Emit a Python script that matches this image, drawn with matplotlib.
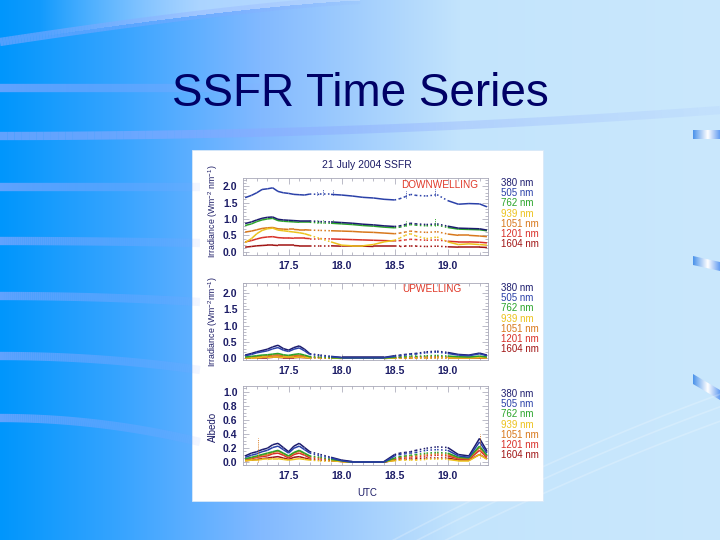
import numpy as np
import matplotlib
matplotlib.use("Agg")
import matplotlib.pyplot as plt
from matplotlib.collections import LineCollection
from matplotlib.patches import Rectangle, Polygon
from matplotlib.ticker import MultipleLocator

plt.rcParams['font.family'] = ['Liberation Sans', 'DejaVu Sans']
plt.rcParams['mathtext.fontset'] = 'custom'
plt.rcParams['mathtext.rm'] = 'Liberation Sans'
plt.rcParams['mathtext.it'] = 'Liberation Sans:italic'
plt.rcParams['mathtext.bf'] = 'Liberation Sans:bold'

# ---------------- data ----------------
SLIDE_TITLE = "SSFR Time Series"
CHART_TITLE = "21 July 2004 SSFR"
WAVELENGTHS = ["380 nm", "505 nm", "762 nm", "939 nm", "1051 nm", "1201 nm", "1604 nm"]
X_TICKS = [17.5, 18.0, 18.5, 19.0]

T = [17.09, 17.15, 17.20, 17.25, 17.30, 17.35, 17.40, 17.45, 17.50, 17.55, 17.60,
     17.65, 17.70, 17.80, 17.90, 18.00, 18.10, 18.20, 18.30, 18.40, 18.50, 18.55,
     18.60, 18.65, 18.70, 18.80, 18.90, 19.00, 19.10, 19.20, 19.30, 19.37]

# downwelling irradiance (W m-2 nm-1)
D380 = [0.86, 0.91, 0.97, 1.02, 1.05, 1.06, 0.99, 0.97, 0.96, 0.95, 0.94, 0.94, 0.94, 0.92, 0.91, 0.89,
        0.87, 0.84, 0.82, 0.79, 0.77, 0.79, 0.83, 0.87, 0.85, 0.83, 0.85, 0.78, 0.72, 0.71, 0.70, 0.66]
D505 = [1.65, 1.72, 1.80, 1.90, 1.92, 1.95, 1.84, 1.80, 1.78, 1.75, 1.74, 1.73, 1.76, 1.75, 1.75, 1.73,
        1.70, 1.66, 1.64, 1.60, 1.58, 1.62, 1.68, 1.75, 1.72, 1.70, 1.74, 1.56, 1.45, 1.47, 1.46, 1.37]
D762 = [0.80, 0.85, 0.92, 0.97, 1.00, 1.02, 0.95, 0.93, 0.92, 0.91, 0.90, 0.90, 0.90, 0.88, 0.87, 0.85,
        0.83, 0.80, 0.78, 0.75, 0.73, 0.75, 0.79, 0.83, 0.81, 0.79, 0.81, 0.74, 0.69, 0.68, 0.67, 0.64]
D939 = [0.28, 0.40, 0.55, 0.65, 0.70, 0.72, 0.66, 0.64, 0.62, 0.60, 0.58, 0.55, 0.50, 0.40, 0.30, 0.20,
        0.18, 0.18, 0.22, 0.30, 0.35, 0.42, 0.50, 0.55, 0.48, 0.40, 0.45, 0.30, 0.22, 0.24, 0.22, 0.20]
D1051 = [0.60, 0.63, 0.67, 0.71, 0.73, 0.74, 0.70, 0.69, 0.68, 0.68, 0.67, 0.67, 0.66, 0.65, 0.64, 0.63,
         0.62, 0.60, 0.59, 0.57, 0.55, 0.57, 0.60, 0.63, 0.61, 0.59, 0.61, 0.54, 0.50, 0.50, 0.48, 0.46]
D1201 = [0.30, 0.34, 0.39, 0.43, 0.45, 0.46, 0.43, 0.42, 0.42, 0.41, 0.41, 0.41, 0.40, 0.40, 0.39, 0.38,
         0.37, 0.36, 0.35, 0.34, 0.33, 0.34, 0.36, 0.38, 0.37, 0.35, 0.36, 0.32, 0.30, 0.30, 0.29, 0.27]
D1604 = [0.14, 0.16, 0.18, 0.19, 0.20, 0.20, 0.19, 0.19, 0.19, 0.19, 0.18, 0.18, 0.18, 0.18, 0.18, 0.17,
         0.17, 0.17, 0.16, 0.16, 0.16, 0.16, 0.17, 0.17, 0.17, 0.16, 0.17, 0.15, 0.14, 0.14, 0.14, 0.13]

# short spikes in the downwelling record
SPIKE_T = [17.77, 17.82, 17.92, 18.61, 18.88]
SPIKE_505_LO = [1.74, 1.74, 1.74, 1.64, 1.70]
SPIKE_505_HI = [1.85, 1.90, 1.88, 1.85, 1.92]
SPIKE_762_LO = [0.88, 0.88, 0.87, 0.78, 0.80]
SPIKE_762_HI = [0.97, 1.00, 0.98, 0.95, 1.02]

# upwelling irradiance (W m-2 nm-1)
U380 = [0.10, 0.15, 0.20, 0.24, 0.28, 0.35, 0.40, 0.30, 0.25, 0.33, 0.38, 0.28, 0.14, 0.10, 0.06, 0.03,
        0.03, 0.03, 0.03, 0.03, 0.08, 0.10, 0.12, 0.14, 0.15, 0.20, 0.22, 0.18, 0.12, 0.10, 0.16, 0.10]
U505 = [0.08, 0.12, 0.17, 0.20, 0.23, 0.29, 0.33, 0.25, 0.21, 0.28, 0.32, 0.23, 0.12, 0.08, 0.05, 0.02,
        0.02, 0.02, 0.02, 0.02, 0.06, 0.08, 0.10, 0.12, 0.13, 0.17, 0.19, 0.15, 0.10, 0.08, 0.14, 0.08]
U762 = [0.04, 0.06, 0.08, 0.10, 0.11, 0.13, 0.15, 0.11, 0.09, 0.12, 0.14, 0.10, 0.05, 0.04, 0.02, 0.01,
        0.01, 0.01, 0.01, 0.01, 0.03, 0.04, 0.05, 0.06, 0.06, 0.08, 0.09, 0.07, 0.05, 0.04, 0.07, 0.04]
U939 = [0.01, 0.02, 0.02, 0.03, 0.03, 0.04, 0.04, 0.03, 0.03, 0.03, 0.04, 0.03, 0.01, 0.01, 0.01, 0.00,
        0.00, 0.00, 0.00, 0.00, 0.01, 0.01, 0.01, 0.02, 0.02, 0.02, 0.02, 0.01, 0.01, 0.01, 0.02, 0.01]
U1051 = [0.03, 0.05, 0.06, 0.07, 0.08, 0.10, 0.11, 0.08, 0.07, 0.09, 0.10, 0.07, 0.04, 0.03, 0.02, 0.01,
         0.01, 0.01, 0.01, 0.01, 0.02, 0.03, 0.03, 0.04, 0.04, 0.05, 0.06, 0.04, 0.03, 0.03, 0.05, 0.03]
U1201 = [0.02, 0.03, 0.04, 0.05, 0.05, 0.06, 0.07, 0.05, 0.04, 0.06, 0.07, 0.05, 0.03, 0.02, 0.01, 0.00,
         0.00, 0.00, 0.00, 0.00, 0.01, 0.02, 0.02, 0.02, 0.03, 0.03, 0.04, 0.03, 0.02, 0.02, 0.03, 0.02]
U1604 = [0.01, 0.01, 0.02, 0.02, 0.02, 0.03, 0.03, 0.02, 0.02, 0.02, 0.03, 0.02, 0.01, 0.01, 0.00, 0.00,
         0.00, 0.00, 0.00, 0.00, 0.01, 0.01, 0.01, 0.01, 0.01, 0.01, 0.02, 0.01, 0.01, 0.01, 0.01, 0.01]

# albedo
A380 = [0.08, 0.12, 0.14, 0.17, 0.19, 0.24, 0.26, 0.20, 0.14, 0.22, 0.26, 0.20, 0.14, 0.10, 0.06, 0.02,
        0.00, 0.00, 0.00, 0.00, 0.10, 0.12, 0.13, 0.14, 0.16, 0.19, 0.21, 0.20, 0.10, 0.08, 0.33, 0.15]
A505 = [0.06, 0.09, 0.11, 0.14, 0.16, 0.20, 0.22, 0.17, 0.12, 0.19, 0.22, 0.17, 0.12, 0.08, 0.05, 0.01,
        -0.01, -0.01, -0.01, -0.01, 0.08, 0.10, 0.11, 0.12, 0.13, 0.16, 0.17, 0.16, 0.08, 0.06, 0.28, 0.12]
A762 = [0.04, 0.06, 0.08, 0.10, 0.12, 0.14, 0.16, 0.12, 0.08, 0.13, 0.16, 0.12, 0.08, 0.06, 0.03, 0.01,
        -0.01, -0.01, -0.01, -0.01, 0.05, 0.07, 0.08, 0.09, 0.10, 0.12, 0.13, 0.12, 0.06, 0.05, 0.22, 0.09]
A939 = [0.01, 0.02, 0.02, 0.03, 0.03, 0.04, 0.04, 0.03, 0.02, 0.03, 0.04, 0.03, 0.02, 0.01, 0.01, 0.00,
        0.00, 0.00, 0.00, 0.00, 0.01, 0.02, 0.02, 0.02, 0.02, 0.03, 0.03, 0.03, 0.01, 0.01, 0.10, 0.03]
A1051 = [0.03, 0.05, 0.07, 0.09, 0.10, 0.13, 0.15, 0.11, 0.07, 0.12, 0.15, 0.11, 0.07, 0.05, 0.03, 0.01,
         -0.01, -0.01, -0.01, -0.01, 0.04, 0.06, 0.07, 0.08, 0.08, 0.10, 0.11, 0.10, 0.05, 0.04, 0.20, 0.08]
A1201 = [0.02, 0.04, 0.06, 0.07, 0.08, 0.11, 0.12, 0.09, 0.05, 0.10, 0.12, 0.09, 0.05, 0.04, 0.02, 0.00,
         -0.01, -0.01, -0.01, -0.01, 0.03, 0.05, 0.05, 0.06, 0.06, 0.08, 0.09, 0.08, 0.04, 0.03, 0.16, 0.06]
A1604 = [0.01, 0.02, 0.03, 0.04, 0.05, 0.06, 0.07, 0.05, 0.03, 0.06, 0.07, 0.05, 0.03, 0.02, 0.01, 0.00,
         -0.01, -0.01, -0.01, -0.01, 0.02, 0.03, 0.03, 0.04, 0.04, 0.05, 0.05, 0.05, 0.02, 0.02, 0.10, 0.04]
ALB_SPIKE_T = [17.21, 19.30]
ALB_SPIKE_HI = [0.34, 0.40]

DOWN = [D380, D505, D762, D939, D1051, D1201, D1604]
UP = [U380, U505, U762, U939, U1051, U1201, U1604]
ALB = [A380, A505, A762, A939, A1051, A1201, A1604]

# ---------------- styling ----------------
COLORS = ["#1c1c6e", "#2a40a8", "#2aa42a", "#ecc21c", "#d8781c", "#d83028", "#a01414"]
NAVY = "#1c1c66"
DOTTED_SPANS = [(17.72, 17.95), (18.52, 19.05)]

W, H = 720, 540
fig = plt.figure(figsize=(7.2, 5.4), dpi=100)

# background
bg = fig.add_axes([0, 0, 1, 1])
xx, yy = np.meshgrid(np.arange(W), np.arange(H))
stops_x = [0, 120, 260, 460, 720]
stops_c = np.array([[0, 150, 252], [55, 164, 255], [130, 185, 255], [195, 228, 252], [202, 232, 252]]) / 255.0
img = np.zeros((H, W, 3))
for k in range(3):
    img[:, :, k] = np.interp(xx, stops_x, stops_c[:, k])
# lighter top arc region
ycurve = 42 * np.clip(1 - xx / 360.0, 0, 1) ** 1.3
mask = (yy < ycurve) & (xx > 40)
light = np.array([190, 222, 255]) / 255.0
amt = np.clip((xx - 40) / 160.0, 0, 1) * 0.8
for k in range(3):
    img[:, :, k] = np.where(mask, img[:, :, k] * (1 - amt) + light[k] * amt, img[:, :, k])
bg.imshow(img, extent=[0, W, H, 0], aspect='auto', interpolation='bilinear')
bg.set_xlim(0, W)
bg.set_ylim(H, 0)
bg.axis('off')

stripe = "#8aa8ff"
xs = np.linspace(0, 360, 120)
for i in range(len(xs) - 1):
    a = 0.6 * (1 - xs[i] / 420.0)
    bg.plot(xs[i:i + 2], 42 * np.clip(1 - xs[i:i + 2] / 360.0, 0, 1) ** 1.3, color=stripe, lw=6,
            alpha=a, solid_capstyle='butt')
for y0, x_end, bend in [(88, 260, 0), (136, 720, -2), (187, 200, 0), (241, 200, 2),
                        (296, 200, 6), (356, 200, 14), (418, 200, 24)]:
    xl = np.linspace(0, x_end, 100)
    yl = y0 + bend * (xl / 200.0) ** 2
    for i in range(len(xl) - 1):
        a = 0.7 * (1 - xl[i] / (x_end * 1.15))
        bg.plot(xl[i:i + 2], yl[i:i + 2], color=stripe, lw=6, alpha=a, solid_capstyle='butt')

# faint light arcs bottom right
for off in [0, 28, 60]:
    xa = np.linspace(380 + off, 720, 80)
    ya = 540 - (xa - 380 - off) * 0.45 + ((xa - 550) / 200) ** 2 * 10
    bg.plot(xa, ya, color="white", lw=1.2, alpha=0.22)

# 3D markers at right edge
grad = np.linspace(0, 1, 50)
gc = np.array([np.interp(grad, [0, 0.55, 1], [0.3, 1.0, 0.4]),
               np.interp(grad, [0, 0.55, 1], [0.58, 1.0, 0.62]),
               np.interp(grad, [0, 0.55, 1], [0.92, 1.0, 0.95])]).T[None, :, :]
for poly in [[(693, 130), (720, 130), (720, 139), (693, 139)],
             [(693, 256), (720, 262), (720, 271), (693, 265)],
             [(693, 374), (720, 390), (720, 400), (693, 384)]]:
    p = Polygon(poly, closed=True, facecolor='none', edgecolor='none')
    bg.add_patch(p)
    ys = [pt[1] for pt in poly]
    im = bg.imshow(gc, extent=[693, 720, max(ys), min(ys)], aspect='auto')
    im.set_clip_path(p)

bg.set_xlim(0, W)
bg.set_ylim(H, 0)

# slide title
bg.text(360, 94, SLIDE_TITLE, ha='center', va='center', fontsize=33, color='#000066',
        family=['Liberation Sans Narrow', 'Liberation Sans'])

# white chart panel
bg.add_patch(Rectangle((192, 150), 351, 351, facecolor='white', edgecolor='#d8e8f8', lw=0.6))


def fig_rect(x0, y0, x1, y1):
    return [x0 / W, 1 - y1 / H, (x1 - x0) / W, (y1 - y0) / H]


def draw_series(ax, y, color, lw=1.1):
    pts = np.column_stack([T, y])
    segs = np.stack([pts[:-1], pts[1:]], axis=1)
    tt = np.array(T)
    mid = (tt[:-1] + tt[1:]) / 2
    dotted = np.zeros(len(mid), bool)
    for a, b in DOTTED_SPANS:
        dotted |= (mid > a) & (mid < b)
    ax.add_collection(LineCollection(segs[~dotted], colors=color, linewidths=lw))
    ax.add_collection(LineCollection(segs[dotted], colors=color, linewidths=lw,
                                     linestyles=[(0, (1.0, 1.6))]))


def style_axes(ax, ylim, major, minor):
    ax.set_xlim(17.07, 19.38)
    ax.set_ylim(*ylim)
    ax.set_xticks(X_TICKS)
    ax.set_xticklabels([f"{v:.1f}" for v in X_TICKS])
    ax.xaxis.set_minor_locator(MultipleLocator(0.1))
    ax.yaxis.set_major_locator(MultipleLocator(major))
    ax.yaxis.set_minor_locator(MultipleLocator(minor))
    ax.tick_params(which='both', direction='in', top=True, right=True, colors='#a0a0b0',
                   labelcolor=NAVY, labelsize=7.5, pad=4)
    ax.tick_params(which='major', length=4, width=0.5)
    ax.tick_params(which='minor', length=2, width=0.5)
    for lab in ax.get_xticklabels() + ax.get_yticklabels():
        lab.set_fontweight('bold')
    for s in ax.spines.values():
        s.set_color('#a8a8b8')
        s.set_linewidth(0.6)
    ax.set_facecolor('white')


def legend(y_top):
    for i, (name, c) in enumerate(zip(WAVELENGTHS, COLORS)):
        bg.text(501, y_top + 10.2 * i, name, color=c, fontsize=7, ha='left', va='center')


order = [6, 5, 4, 3, 2, 0, 1]

# panel 1: downwelling
ax1 = fig.add_axes(fig_rect(243, 178, 488, 255))
style_axes(ax1, (-0.1, 2.25), 0.5, 0.1)
ax1.yaxis.set_major_formatter(plt.FormatStrFormatter('%.1f'))
for i in order:
    draw_series(ax1, DOWN[i], COLORS[i])
ax1.vlines(SPIKE_T, SPIKE_505_LO, SPIKE_505_HI, colors=COLORS[1], lw=0.7, linestyles=(0, (1, 1.2)))
ax1.vlines(SPIKE_T, SPIKE_762_LO, SPIKE_762_HI, colors=COLORS[2], lw=0.7, linestyles=(0, (1, 1.2)))
ax1.text(0.96, 0.97, "DOWNWELLING", transform=ax1.transAxes, ha='right', va='top',
         color='#e03828', fontsize=7.2)
legend(183)

# panel 2: upwelling
ax2 = fig.add_axes(fig_rect(243, 283, 488, 360))
style_axes(ax2, (-0.05, 2.3), 0.5, 0.1)
ax2.yaxis.set_major_formatter(plt.FormatStrFormatter('%.1f'))
for i in order:
    draw_series(ax2, UP[i], COLORS[i])
ax2.text(0.89, 0.99, "UPWELLING", transform=ax2.transAxes, ha='right', va='top',
         color='#e03828', fontsize=7.2)
legend(288)

# panel 3: albedo
ax3 = fig.add_axes(fig_rect(243, 386, 488, 465))
style_axes(ax3, (-0.05, 1.08), 0.2, 0.05)
ax3.yaxis.set_major_formatter(plt.FormatStrFormatter('%.1f'))
for i in order:
    draw_series(ax3, ALB[i], COLORS[i])
ax3.vlines(ALB_SPIKE_T, [0.0, 0.05], ALB_SPIKE_HI, colors=COLORS[4], lw=0.7, linestyles=(0, (1, 1.2)))
legend(394)

# chart texts
bg.text(367, 165, CHART_TITLE, ha='center', va='center', fontsize=7.5, color=NAVY)
bg.text(213, 211, r"Irradiance (Wm$^{-2}$ nm$^{-1}$)", rotation=90, ha='center', va='center',
        fontsize=6.3, color=NAVY)
bg.text(213, 321, r"Irradiance (Wm$^{-2}$nm$^{-1}$)", rotation=90, ha='center', va='center',
        fontsize=6.3, color=NAVY)
bg.text(213, 427, "Albedo", rotation=90, ha='center', va='center', fontsize=7, color=NAVY)
bg.text(367, 493, "UTC", ha='center', va='center', fontsize=7, color=NAVY)

fig.savefig("out.png", dpi=100)
